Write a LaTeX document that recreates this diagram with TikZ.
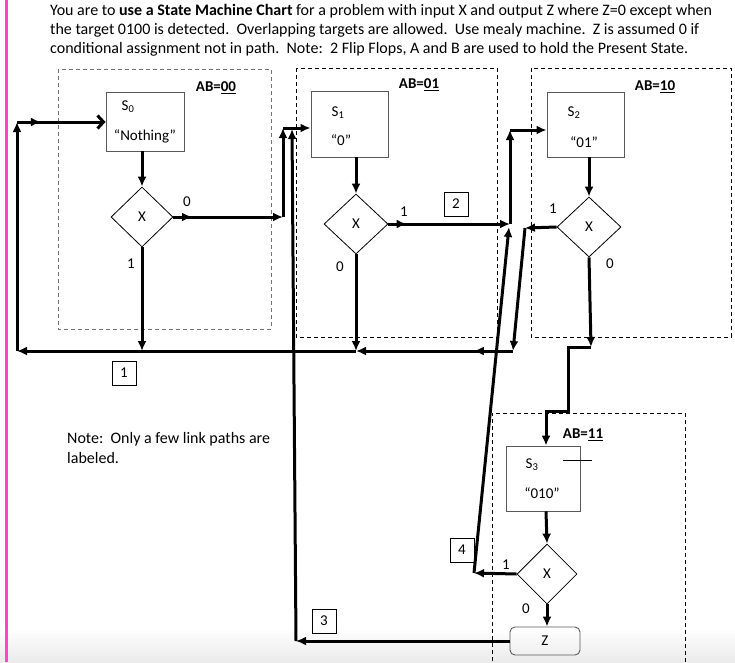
\documentclass[tikz,border=0pt]{standalone}
\usepackage{fontspec}
\setmainfont{Carlito}
\usetikzlibrary{arrows.meta,decorations.markings}
\usetikzlibrary{calc}
\usetikzlibrary{shapes.geometric}
\definecolor{marginpink}{RGB}{255,68,204}

\begin{document}
\begin{tikzpicture}[
  x=1pt, y=-1pt,
  > = {Latex[length=10pt,width=9pt]},
  every node/.style={font=\fontsize{15}{17}\selectfont, inner sep=0pt},
  txt/.style={font=\fontsize{16}{19}\selectfont, anchor=base west},
  zone/.style={draw, dash pattern=on 4pt off 3pt, line width=0.7pt},
  statebox/.style={draw=black!65, line width=0.9pt},
  decision/.style={draw, diamond, line width=0.8pt},
  tag/.style={draw, line width=0.8pt, minimum size=24pt},
  link/.style={line width=3pt},
  arrow inside/.style = {postaction=decorate,decoration={markings,mark=at position #1 with \arrow{>}}}
  ]
	\useasboundingbox (0,0) rectangle (735,662);
	\shade[top color=white, bottom color=black!8] (0,628) rectangle (735,662);
	\fill[marginpink] (5,0) rectangle (8,662);

	% problem statement
	\node[txt] (line1) at (50,15) {You are to \textbf{use a State Machine Chart} for a problem with input X and output Z where Z=0 except when};
	\node[txt] (line2) at (50,34) {the target 0100 is detected.\ \ Overlapping targets are allowed.\ \ Use mealy machine.\ \ Z is assumed 0 if};
	\node[txt] (line3) at (50,53) {conditional assignment not in path.\ \ Note:\ \ 2 Flip Flops, A and B are used to hold the Present State.};

	% state regions
	\draw[zone, draw=black!55, line width=1pt] (58,69) rectangle (271,329);
	\draw[zone] (296,68) rectangle (497,337);
	\draw[zone] (531,68) rectangle (731,337);
	\draw[zone] (685,662) |- (492,413) -- (492,662);

	\node (ab00) at (216,88) {\textbf{AB=\underline{00}}};
	\node (ab01) at (419,85) {\textbf{AB=\underline{01}}};
	\node (ab10) at (655,87) {\textbf{AB=\underline{10}}};
	\node (ab11) at (583,435) {\textbf{AB=\underline{11}}};

	% state boxes
	\node[statebox, minimum width=78pt, minimum height=59pt] (s0) at (145,121.5) {};
	\node[statebox, minimum width=77pt, minimum height=66pt] (s1) at (349.5,124) {};
	\node[statebox, minimum width=77pt, minimum height=65pt] (s2) at (585.5,124.5) {};
	\node[statebox, minimum width=74pt, minimum height=65pt] (s3) at (543,478.5) {};
	\node[statebox, rounded corners=5pt, minimum width=70pt, minimum height=28pt] (z) at (545,641) {Z};

	\node (s0name) at (128,107) {S\textsubscript{0}};
	\node (s0out) at (145,136) {“Nothing”};
	\node (s1name) at (338,113) {S\textsubscript{1}};
	\node (s1out) at (341,140) {“0”};
	\node (s2name) at (574,113) {S\textsubscript{2}};
	\node (s2out) at (584,142) {“01”};
	\node (s3name) at (532,465) {S\textsubscript{3}};
	\node (s3out) at (542,493) {“010”};
	\draw[line width=0.9pt] (563,460) -- (592,460);

	% decisions
	\node[decision, minimum width=62pt, minimum height=60pt] (d0) at (142,217) {X};
	\node[decision, minimum width=64pt, minimum height=60pt] (d1) at (356,224) {X};
	\node[decision, minimum width=64pt, minimum height=60pt] (d2) at (589,227) {X};
	\node[decision, minimum width=60pt, minimum height=60pt] (d3) at (547,574) {X};

	\node (d0zero) at (187,202) {0};
	\node (d0one) at (131,264) {1};
	\node (d1one) at (404,212) {1};
	\node (d1zero) at (340,267) {0};
	\node (d2one) at (553,209) {1};
	\node (d2zero) at (610,264) {0};
	\node (d3one) at (506,565) {1};
	\node (d3zero) at (526,609) {0};

	% link tags
	\node[tag] (tag1) at (124,373) {1};
	\node[tag] (tag2) at (456,204) {2};
	\node[tag] (tag3) at (324,621) {3};
	\node[tag] (tag4) at (462,550) {4};

	\node[txt] (note1) at (67,443) {Note:\ \ Only a few link paths are};
	\node[txt] (note2) at (67,463) {labeled.};

	% corner points
	\coordinate (busl) at (17,351);
	\coordinate (s0in) at (17,122);
	\coordinate (j1) at (356,351);
	\coordinate (busr) at (513,351);
	\coordinate (d2k) at (525,228);
	\coordinate (d0r) at (283,217);
	\coordinate (s1in) at (283,128);
	\coordinate (d1r) at (510,224);
	\coordinate (s2in) at (510,130);
	\coordinate (d2b) at (591,347);
	\coordinate (c1) at (568,347);
	\coordinate (c2) at (568,411);
	\coordinate (c3) at (546,411);
	\coordinate (d3l) at (474,573);
	\coordinate (m2) at (509,227);
	\coordinate (zl) at (296,641);
	\coordinate (s1in2) at (292,129);

	% state to decision
	\draw[link,->] (s0.south -| d0) -- (d0.north);
	\draw[link,->] (s1.south -| d1) -- (d1.north);
	\draw[link,->] (s2.south -| d2) -- (d2.north);
	\draw[link,->] (c3 |- s3.south) -- (d3.north);
	\draw[link,->] (d3.south) -- (z.north -| d3);

	% back to S0
	\draw[link,->] (d0.south) -- (d0.south |- busl);
	\draw[link,->] (d1.south) -- (j1);
	\draw[link,->] (d2.west) -- (d2k);
	\draw[link,->] (d2k) -- (busr);
	\draw[link,->,arrow inside=0.25] (busr) -- (j1);
	\draw[link,->] (j1) -- (busl);
	\draw[link,->] (busl) -- (s0in);
	\draw[link,-{Straight Barb[length=6pt,width=13pt]},arrow inside=0.27] (s0in) -- (s0.west |- s0in);

	% to S1
	\draw[link,->,arrow inside=0.17] (d0.east) -- (d0r);
	\draw[link,->] (d0r) -- (s1in);
	\draw[link,->] (s1in) -- (s1.west |- s1in);
	\draw[link,->] (z.west) -- (zl);
	\draw[link,->] (zl) -- (s1in2);

	% to S2
	\draw[link,->,arrow inside=0.15] (d1.east) -- (d1r);
	\draw[link,->] (d1r) -- (s2in);
	\draw[link,->] (s2in) -- (s2.west |- s2in);
	\draw[link,->] (d3.west) -- (d3l);
	\draw[link,->] (d3l) -- (m2);

	% to S3
	\draw[link,->] (d2.south) -- (d2b);
	\draw[link,->] (d2b) -- (c1) -- (c2) -- (c3) -- (c3 |- s3.north);

\end{tikzpicture}
\end{document}
